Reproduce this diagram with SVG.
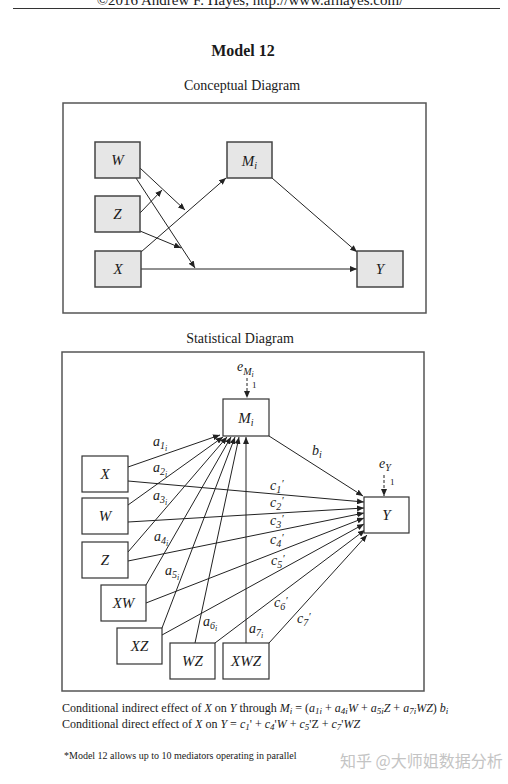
<svg xmlns="http://www.w3.org/2000/svg" width="508" height="784" viewBox="0 0 508 784">
<style>
text{font-family:"Liberation Serif","Times New Roman",serif;fill:#1a1a1a}
.it{font-style:italic}
.frame{fill:none;stroke:#555;stroke-width:1.5}
.cn{fill:#e6e6e6;stroke:#444;stroke-width:1.5}
.sn{fill:#fff;stroke:#333;stroke-width:1.2}
.nl{font-size:15px;font-style:italic;text-anchor:middle}
.ln{fill:none;stroke:#222;stroke-width:1}
.ar{marker-end:url(#ah)}
.da{fill:none;stroke:#222;stroke-width:1;stroke-dasharray:3,2;marker-end:url(#ah)}
.lb{font-size:14px;font-style:italic}
.sb{font-size:10px}
.ss{font-size:8px}
.pr{font-size:11px}
.eq{font-size:12px}
</style>
<defs>
<marker id="ah" markerWidth="8" markerHeight="6" refX="7" refY="3" orient="auto" markerUnits="userSpaceOnUse">
<path d="M0,0 L7,3 L0,6 Z" fill="#222"/>
</marker>
</defs>
<rect width="508" height="784" fill="#fff"/>
<text x="250" y="5" font-size="15" text-anchor="middle">©2016 Andrew F. Hayes, http://www.afhayes.com/</text>
<line x1="13" y1="8.5" x2="500" y2="8.5" stroke="#333" stroke-width="1"/>
<text x="243" y="56" font-size="16" font-weight="bold" text-anchor="middle">Model 12</text>
<text x="242" y="90" font-size="14" text-anchor="middle">Conceptual Diagram</text>
<rect class="frame" x="63" y="103" width="363" height="210"/>
<text x="240" y="343" font-size="14" text-anchor="middle">Statistical Diagram</text>
<rect class="frame" x="62" y="352" width="362" height="339"/>

<g id="connectors">
<g id="conceptual-connectors">
<line class="ln ar" x1="141" y1="252" x2="226" y2="178"/>
<line class="ln ar" x1="141" y1="269" x2="357" y2="269"/>
<line class="ln ar" x1="272" y1="178" x2="357" y2="252"/>
<line class="ln ar" x1="140" y1="168" x2="185" y2="210"/>
<line class="ln ar" x1="136" y1="178" x2="195" y2="268"/>
<line class="ln ar" x1="140" y1="213" x2="162" y2="190"/>
<line class="ln ar" x1="140" y1="231" x2="181" y2="248"/>
</g>
<g id="statistical-connectors">
<line class="ln ar" x1="128" y1="467" x2="220" y2="435"/>
<line class="ln ar" x1="128" y1="505" x2="223" y2="437"/>
<line class="ln ar" x1="128" y1="552" x2="227" y2="437"/>
<line class="ln ar" x1="146" y1="585" x2="231" y2="437"/>
<line class="ln ar" x1="162" y1="628" x2="235" y2="437"/>
<line class="ln ar" x1="195" y1="643" x2="239" y2="437"/>
<line class="ln ar" x1="246" y1="643" x2="246" y2="437"/>
<line class="ln ar" x1="269" y1="436" x2="363" y2="496"/>
<line class="ln ar" x1="128" y1="481" x2="364" y2="502"/>
<line class="ln ar" x1="128" y1="522" x2="364" y2="508"/>
<line class="ln ar" x1="128" y1="561" x2="364" y2="513"/>
<line class="ln ar" x1="146" y1="603" x2="364" y2="518"/>
<line class="ln ar" x1="162" y1="635" x2="364" y2="524"/>
<line class="ln ar" x1="215" y1="643" x2="365" y2="530"/>
<line class="ln ar" x1="269" y1="643" x2="367" y2="535"/>
<line class="da" x1="247" y1="378" x2="247" y2="398"/>
<line class="da" x1="384" y1="475" x2="384" y2="496"/>
</g>
<g id="connector-labels">
<text class="lb" x="153" y="446">a<tspan class="sb" dy="3">1</tspan><tspan class="ss" dy="2">i</tspan></text>
<text class="lb" x="153" y="472">a<tspan class="sb" dy="3">2</tspan><tspan class="ss" dy="2">i</tspan></text>
<text class="lb" x="153" y="500">a<tspan class="sb" dy="3">3</tspan><tspan class="ss" dy="2">i</tspan></text>
<text class="lb" x="154" y="541">a<tspan class="sb" dy="3">4</tspan><tspan class="ss" dy="2">i</tspan></text>
<text class="lb" x="165" y="575">a<tspan class="sb" dy="3">5</tspan><tspan class="ss" dy="2">i</tspan></text>
<text class="lb" x="203" y="626">a<tspan class="sb" dy="3">6</tspan><tspan class="ss" dy="2">i</tspan></text>
<text class="lb" x="249" y="633">a<tspan class="sb" dy="3">7</tspan><tspan class="ss" dy="2">i</tspan></text>
<text class="lb" x="312" y="455">b<tspan class="sb" dy="3">i</tspan></text>
<text class="lb" x="270" y="490">c<tspan class="sb" dy="3">1</tspan><tspan class="pr" dy="-6">′</tspan></text>
<text class="lb" x="270" y="507">c<tspan class="sb" dy="3">2</tspan><tspan class="pr" dy="-6">′</tspan></text>
<text class="lb" x="270" y="525">c<tspan class="sb" dy="3">3</tspan><tspan class="pr" dy="-6">′</tspan></text>
<text class="lb" x="270" y="544">c<tspan class="sb" dy="3">4</tspan><tspan class="pr" dy="-6">′</tspan></text>
<text class="lb" x="271" y="565">c<tspan class="sb" dy="3">5</tspan><tspan class="pr" dy="-6">′</tspan></text>
<text class="lb" x="274" y="607">c<tspan class="sb" dy="3">6</tspan><tspan class="pr" dy="-6">′</tspan></text>
<text class="lb" x="297" y="623">c<tspan class="sb" dy="3">7</tspan><tspan class="pr" dy="-6">′</tspan></text>
<text class="lb" x="237" y="371">e<tspan class="sb" dy="4">M</tspan><tspan class="ss" dy="2">i</tspan></text>
<text x="252" y="388" font-size="9">1</text>
<text class="lb" x="379" y="468">e<tspan class="sb" dy="3">Y</tspan></text>
<text x="390" y="485" font-size="9">1</text>
</g>
</g>

<g id="c-W"><rect class="cn" x="95" y="142" width="45" height="36"/><text class="nl" x="117.5" y="165">W</text></g>
<g id="c-Z"><rect class="cn" x="95" y="196" width="45" height="36"/><text class="nl" x="117.5" y="219">Z</text></g>
<g id="c-X"><rect class="cn" x="95" y="251" width="46" height="36"/><text class="nl" x="118" y="274">X</text></g>
<g id="c-M"><rect class="cn" x="227" y="142" width="45" height="36"/><text class="nl" x="249.5" y="166">M<tspan font-size="10" dy="3">i</tspan></text></g>
<g id="c-Y"><rect class="cn" x="357" y="251" width="46" height="36"/><text class="nl" x="380" y="274">Y</text></g>

<g id="s-M"><rect class="sn" x="223" y="399" width="46" height="37"/><text class="nl" x="246" y="423">M<tspan font-size="10" dy="3">i</tspan></text></g>
<g id="s-X"><rect class="sn" x="82" y="456" width="46" height="36"/><text class="nl" x="105" y="479">X</text></g>
<g id="s-W"><rect class="sn" x="82" y="498" width="46" height="36"/><text class="nl" x="105" y="521">W</text></g>
<g id="s-Z"><rect class="sn" x="82" y="542" width="46" height="36"/><text class="nl" x="105" y="565">Z</text></g>
<g id="s-XW"><rect class="sn" x="101" y="585" width="45" height="36"/><text class="nl" x="123.5" y="608">XW</text></g>
<g id="s-XZ"><rect class="sn" x="117" y="628" width="45" height="36"/><text class="nl" x="139.5" y="651">XZ</text></g>
<g id="s-WZ"><rect class="sn" x="170" y="643" width="45" height="36"/><text class="nl" x="192.5" y="666">WZ</text></g>
<g id="s-XWZ"><rect class="sn" x="223" y="643" width="46" height="36"/><text class="nl" x="246" y="666">XWZ</text></g>
<g id="s-Y"><rect class="sn" x="364" y="497" width="45" height="36"/><text class="nl" x="386.5" y="520">Y</text></g>

<text class="eq" x="62" y="712">Conditional indirect effect of <tspan class="it">X</tspan> on <tspan class="it">Y</tspan> through <tspan class="it">M<tspan font-size="9" dy="2">i</tspan></tspan><tspan dy="-2"> = (</tspan><tspan class="it">a<tspan font-size="9" dy="2">1<tspan class="it">i</tspan></tspan></tspan><tspan dy="-2"> + </tspan><tspan class="it">a<tspan font-size="9" dy="2">4i</tspan><tspan dy="-2">W</tspan></tspan> + <tspan class="it">a<tspan font-size="9" dy="2">5i</tspan><tspan dy="-2">Z</tspan></tspan> + <tspan class="it">a<tspan font-size="9" dy="2">7i</tspan><tspan dy="-2">WZ</tspan></tspan>) <tspan class="it">b<tspan font-size="9" dy="2">i</tspan></tspan></text>
<text class="eq" x="62" y="728">Conditional direct effect of <tspan class="it">X</tspan> on <tspan class="it">Y</tspan> = <tspan class="it">c<tspan font-size="9" dy="2">1</tspan></tspan><tspan dy="-2">' + </tspan><tspan class="it">c<tspan font-size="9" dy="2">4</tspan></tspan><tspan dy="-2">'</tspan><tspan class="it">W</tspan> + <tspan class="it">c<tspan font-size="9" dy="2">5</tspan></tspan><tspan dy="-2">'Z + </tspan><tspan class="it">c<tspan font-size="9" dy="2">7</tspan></tspan><tspan dy="-2">'</tspan><tspan class="it">WZ</tspan></text>
<text x="64" y="759" font-size="10">*Model 12 allows up to 10 mediators operating in parallel</text>
<text x="340" y="767" font-size="16" fill="#c4c4c4" style="fill:#c4c4c4;font-family:'Noto Sans CJK SC','Liberation Sans',sans-serif">知乎 @大师姐数据分析</text>
</svg>
